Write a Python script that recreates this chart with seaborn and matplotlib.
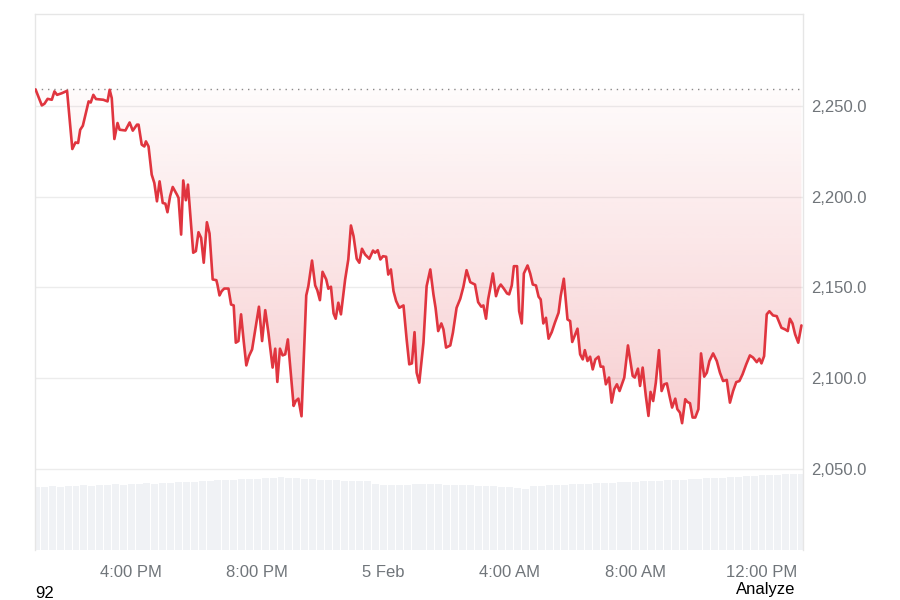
import numpy as np
import pandas as pd
import matplotlib
matplotlib.use("Agg")
import matplotlib.pyplot as plt
import matplotlib.dates as mdates
from matplotlib.patches import PathPatch
from matplotlib.ticker import FuncFormatter
import seaborn as sns

# price series: minutes after 12:00 PM on 4 Feb, and price
start = pd.Timestamp("2025-02-04 12:00")
minutes = [58, 70, 75, 81, 89, 94, 99, 108, 118, 128,
           134, 139, 143, 148, 159, 163, 168, 173, 187, 195,
           199, 203, 208, 214, 218, 229, 237, 243, 251, 254,
           260, 265, 268, 273, 279, 284, 289, 294, 300, 305,
           309, 314, 319, 327, 330, 335, 339, 344, 348, 358,
           363, 368, 373, 378, 384, 389, 395, 402, 404, 408,
           412, 417, 425, 430, 435, 439, 444, 449, 454, 459,
           464, 470, 476, 483, 489, 495, 501, 509, 514, 518,
           523, 528, 533, 538, 549, 553, 558, 564, 573, 577,
           584, 590, 594, 599, 604, 611, 615, 620, 625, 629,
           634, 639, 647, 653, 658, 663, 669, 674, 679, 685,
           693, 700, 704, 709, 714, 719, 725, 729, 734, 739,
           744, 750, 758, 764, 769, 774, 779, 783, 788, 796,
           802, 809, 815, 819, 824, 830, 834, 839, 847, 852,
           859, 866, 872, 878, 885, 890, 894, 900, 906, 910,
           915, 919, 924, 928, 934, 939, 943, 949, 955, 959,
           964, 968, 974, 978, 983, 987, 994, 999, 1004, 1010,
           1015, 1019, 1024, 1029, 1034, 1040, 1046, 1053, 1057, 1063,
           1070, 1075, 1079, 1084, 1089, 1094, 1099, 1103, 1108, 1113,
           1118, 1123, 1129, 1133, 1138, 1143, 1149, 1154, 1159, 1164,
           1169, 1178, 1185, 1194, 1198, 1204, 1208, 1213, 1219, 1224,
           1228, 1233, 1238, 1244, 1249, 1254, 1259, 1264, 1269, 1275,
           1279, 1284, 1288, 1294, 1298, 1303, 1308, 1313, 1319, 1324,
           1330, 1335, 1340, 1347, 1354, 1360, 1366, 1373, 1379, 1385,
           1391, 1397, 1403, 1410, 1417, 1423, 1430, 1435, 1439, 1444,
           1449, 1454, 1461, 1468, 1477, 1484, 1489, 1493, 1498, 1503,
           1509, 1515]
prices = [2259.0, 2250.2, 2251.1, 2253.8, 2253.3, 2257.9, 2256.0, 2256.9, 2258.2, 2226.2,
          2229.8, 2229.5, 2236.8, 2239.0, 2252.4, 2251.8, 2256.0, 2253.7, 2253.3, 2252.4,
          2258.8, 2254.2, 2231.7, 2240.5, 2236.8, 2236.4, 2240.8, 2236.3, 2239.6, 2239.6,
          2228.6, 2227.6, 2230.4, 2227.6, 2212.1, 2207.5, 2197.4, 2208.4, 2196.5, 2196.1,
          2191.4, 2200.2, 2205.3, 2201.1, 2199.3, 2179.1, 2208.9, 2198.0, 2206.6, 2169.1,
          2170.0, 2180.4, 2177.3, 2163.6, 2185.9, 2179.7, 2154.4, 2154.0, 2151.6, 2145.6,
          2147.9, 2149.4, 2149.4, 2140.6, 2140.1, 2119.6, 2120.5, 2135.2, 2120.5, 2107.1,
          2112.2, 2115.9, 2126.9, 2139.4, 2120.5, 2137.5, 2125.1, 2105.9, 2116.3, 2098.0,
          2116.3, 2112.6, 2113.2, 2121.4, 2084.8, 2087.5, 2088.8, 2079.1, 2145.6, 2150.7,
          2164.8, 2151.1, 2148.5, 2143.0, 2158.6, 2154.4, 2149.3, 2150.4, 2135.7, 2132.8,
          2141.6, 2135.2, 2154.4, 2165.4, 2184.1, 2178.2, 2165.8, 2163.6, 2171.3, 2168.1,
          2165.8, 2170.3, 2169.1, 2170.5, 2165.4, 2167.2, 2166.9, 2157.1, 2159.9, 2148.0,
          2142.5, 2138.8, 2140.1, 2121.4, 2107.7, 2108.2, 2125.4, 2103.1, 2097.6, 2119.6,
          2150.7, 2159.9, 2146.1, 2138.8, 2126.0, 2130.2, 2126.9, 2116.9, 2118.1, 2125.1,
          2138.8, 2143.8, 2150.4, 2159.5, 2152.9, 2152.2, 2151.6, 2141.9, 2139.4, 2140.1,
          2132.8, 2143.4, 2151.1, 2157.7, 2145.2, 2149.8, 2151.6, 2149.3, 2146.7, 2146.2,
          2151.1, 2161.7, 2161.7, 2137.0, 2130.2, 2157.7, 2162.1, 2157.7, 2151.6, 2151.1,
          2144.9, 2143.4, 2130.2, 2133.3, 2121.8, 2125.4, 2130.6, 2136.1, 2145.2, 2154.8,
          2132.4, 2131.5, 2120.0, 2123.6, 2127.3, 2113.2, 2110.4, 2115.5, 2109.5, 2111.9,
          2104.9, 2110.4, 2111.9, 2106.4, 2106.4, 2096.7, 2100.4, 2086.6, 2094.0, 2096.7,
          2093.0, 2100.4, 2118.1, 2101.3, 2100.4, 2105.3, 2095.8, 2105.9, 2090.3, 2079.3,
          2092.5, 2087.5, 2097.6, 2115.5, 2093.0, 2096.7, 2097.2, 2090.3, 2083.9, 2088.8,
          2083.0, 2081.1, 2075.3, 2088.5, 2087.0, 2086.3, 2078.4, 2078.4, 2083.0, 2113.7,
          2100.9, 2103.1, 2109.5, 2113.7, 2109.5, 2103.1, 2098.5, 2099.1, 2086.6, 2093.0,
          2097.9, 2098.5, 2102.2, 2107.7, 2112.6, 2111.4, 2108.9, 2110.8, 2108.2, 2112.2,
          2135.2, 2136.9, 2134.6, 2134.2, 2127.8, 2126.9, 2126.0, 2132.8, 2130.2, 2124.2,
          2119.6, 2129.1]
baseline = 2259.3

# volume, one bar per 15 minutes from 1:00 PM (relative units)
vol_first_min = 60
vol_step = 15
volume = [63, 63, 64, 63, 64, 64, 65, 64, 65, 65,
          66, 65, 66, 66, 67, 66, 67, 67, 68, 68,
          68, 69, 69, 70, 70, 70, 71, 71, 71, 72,
          72, 73, 72, 72, 71, 71, 70, 70, 70, 69,
          69, 69, 69, 66, 65, 65, 65, 65, 66, 66,
          66, 66, 65, 65, 65, 65, 64, 64, 64, 63,
          63, 62, 61, 64, 64, 65, 65, 65, 66, 66,
          66, 67, 67, 67, 68, 68, 68, 69, 69, 69,
          70, 70, 70, 71, 71, 72, 72, 72, 73, 73,
          74, 74, 75, 75, 75, 76, 76, 76]

y_ticks = [2050, 2100, 2150, 2200, 2250]
x_tick_times = ["2025-02-04 16:00", "2025-02-04 20:00", "2025-02-05 00:00",
                "2025-02-05 04:00", "2025-02-05 08:00", "2025-02-05 12:00"]
x_tick_labels = ["4:00 PM", "8:00 PM", "5 Feb", "4:00 AM", "8:00 AM", "12:00 PM"]

df = pd.DataFrame({"time": start + pd.to_timedelta(minutes, unit="min"),
                   "price": prices})
vol_times = start + pd.to_timedelta(vol_first_min + vol_step * np.arange(len(volume)), unit="min")

sns.set_theme(style="white")
plt.rcParams["font.family"] = ["Liberation Sans", "DejaVu Sans"]

line_color = "#e0353f"
fig = plt.figure(figsize=(9, 6), dpi=100)
ax = fig.add_axes([35 / 900, 50 / 600, 768 / 900, 536 / 600])

# volume bars on a hidden twin axis, behind the price axis
vax = ax.twinx()
vax.bar(vol_times, volume, width=vol_step / 1440 * 0.88, color="#f0f2f5", linewidth=0)
vax.set_ylim(0, 536)
vax.set_yticks([])
for s in vax.spines.values():
    s.set_visible(False)
ax.set_zorder(vax.get_zorder() + 1)
ax.patch.set_visible(False)

sns.lineplot(data=df, x="time", y="price", ax=ax, color=line_color, linewidth=1.9, zorder=4)

# gradient fill between baseline and price
x0 = start + pd.Timedelta(minutes=57)
x1 = start + pd.Timedelta(minutes=1518)
fill = ax.fill_between(df["time"], df["price"], baseline, facecolor="none", edgecolor="none")
clip = PathPatch(fill.get_paths()[0], transform=ax.transData, facecolor="none", edgecolor="none")
ax.add_patch(clip)
img = np.zeros((256, 1, 4))
img[..., :3] = matplotlib.colors.to_rgb(line_color)
img[..., 3] = np.linspace(0.24, 0.02, 256)[:, None]
im = ax.imshow(img, extent=[mdates.date2num(x0), mdates.date2num(x1), 2075, baseline],
               aspect="auto", origin="lower", zorder=2)
im.set_clip_path(clip)

ax.axhline(baseline, color="#8a8a8a", linewidth=1, linestyle=(0, (1, 3.5)), zorder=3)

ax.set_xlim(x0, x1)
ax.set_ylim(2005.5, 2300.5)
ax.yaxis.tick_right()
ax.set_yticks(y_ticks)
ax.yaxis.set_major_formatter(FuncFormatter(lambda v, p: f"{v:,.1f}"))
ax.set_xticks(pd.to_datetime(x_tick_times))
ax.set_xticklabels(x_tick_labels)
ax.tick_params(axis="y", length=0, pad=6, labelsize=12, labelcolor="#70757a")
ax.tick_params(axis="x", length=0, pad=11, labelsize=12, labelcolor="#70757a")
ax.set_xlabel("")
ax.set_ylabel("")
ax.grid(axis="y", color="#ececec", linewidth=1)
ax.grid(axis="x", visible=False)
for name, s in ax.spines.items():
    s.set_color("#e6e6e6")
    s.set_linewidth(1)
ax.spines["bottom"].set_visible(False)

fig.text(35 / 900, 0.003, "92", fontsize=12, color="black", va="baseline", ha="left")
fig.text(795 / 900, 0.01, "Analyze", fontsize=12, color="black", va="baseline", ha="right")

fig.savefig("out.png", dpi=100)
